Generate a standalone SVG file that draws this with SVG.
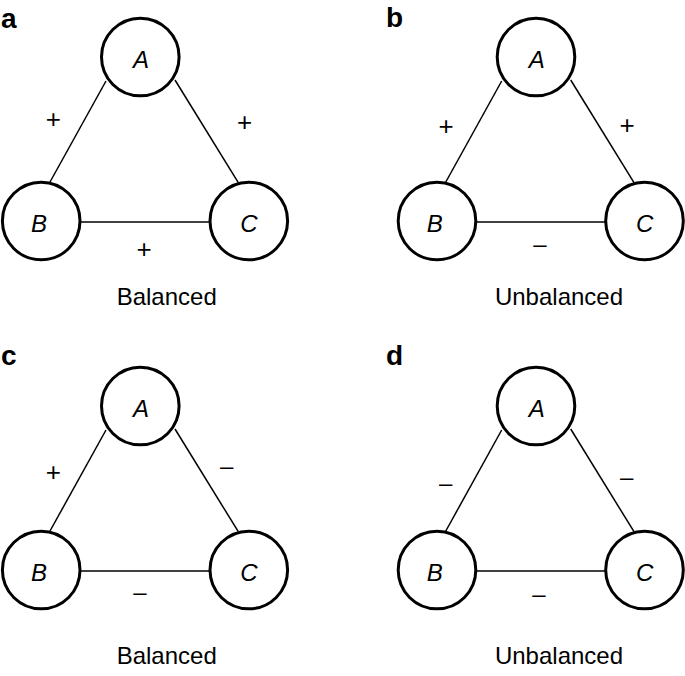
<svg xmlns="http://www.w3.org/2000/svg" width="685" height="676" viewBox="0 0 685 676">
<style>
.node circle{fill:#fff;stroke:#000;stroke-width:3}
.node text{font-family:"Liberation Sans",Arial,sans-serif;font-style:italic;font-size:24px;text-anchor:middle;fill:#000}
.edge{stroke:#000;stroke-width:1.5;fill:none}
.sign{font-family:"Liberation Sans",Arial,sans-serif;font-size:24px;text-anchor:middle;fill:#000}
.plus{font-size:26px}
.cap{font-family:"Liberation Sans",Arial,sans-serif;font-size:24px;text-anchor:middle;fill:#000}
.plabel{font-family:"Liberation Sans",Arial,sans-serif;font-size:28px;font-weight:bold;fill:#000}
</style>
<rect width="685" height="676" fill="#fff"/>

<!-- Panel a -->
<g id="panel-a">
  <text class="plabel" x="1" y="28">a</text>
  <g id="edges-a">
    <line class="edge" x1="106" y1="81" x2="50" y2="182"/>
    <line class="edge" x1="175" y1="80" x2="238.3" y2="182.7"/>
    <line class="edge" x1="80" y1="222" x2="210" y2="222"/>
  </g>
  <g id="a-A" class="node"><circle cx="140.3" cy="57" r="38.8"/><text x="141" y="68">A</text></g>
  <g id="a-B" class="node"><circle cx="41.2" cy="221" r="38.8"/><text x="39" y="232">B</text></g>
  <g id="a-C" class="node"><circle cx="248.8" cy="221" r="38.8"/><text x="249" y="232">C</text></g>
  <text class="sign plus" x="53.3" y="128">+</text>
  <text class="sign plus" x="244.5" y="131">+</text>
  <text class="sign plus" x="144" y="258">+</text>
  <text class="cap" x="166.7" y="305">Balanced</text>
</g>

<!-- Panel b -->
<g id="panel-b">
  <text class="plabel" x="386" y="27">b</text>
  <g id="edges-b">
    <line class="edge" x1="501.7" y1="81" x2="445.8" y2="182"/>
    <line class="edge" x1="570.7" y1="80" x2="634" y2="182.7"/>
    <line class="edge" x1="476" y1="222" x2="605.5" y2="222"/>
  </g>
  <g id="b-A" class="node"><circle cx="536" cy="57" r="38.8"/><text x="536.7" y="68">A</text></g>
  <g id="b-B" class="node"><circle cx="437" cy="221" r="38.8"/><text x="434.8" y="232">B</text></g>
  <g id="b-C" class="node"><circle cx="644.5" cy="221" r="38.8"/><text x="644.7" y="232">C</text></g>
  <text class="sign plus" x="446" y="135">+</text>
  <text class="sign plus" x="627" y="134">+</text>
  <text class="sign" x="540" y="251.7">–</text>
  <text class="cap" x="559" y="305">Unbalanced</text>
</g>

<!-- Panel c -->
<g id="panel-c">
  <text class="plabel" x="1" y="365">c</text>
  <g id="edges-c">
    <line class="edge" x1="106" y1="430" x2="50" y2="531"/>
    <line class="edge" x1="175" y1="429" x2="238.3" y2="531.7"/>
    <line class="edge" x1="80" y1="571" x2="210" y2="571"/>
  </g>
  <g id="c-A" class="node"><circle cx="140.3" cy="406" r="38.8"/><text x="141" y="417">A</text></g>
  <g id="c-B" class="node"><circle cx="41.2" cy="570" r="38.8"/><text x="39" y="581">B</text></g>
  <g id="c-C" class="node"><circle cx="248.8" cy="570" r="38.8"/><text x="249" y="581">C</text></g>
  <text class="sign plus" x="53.3" y="480.5">+</text>
  <text class="sign" x="226.7" y="474.4">–</text>
  <text class="sign" x="140" y="600">–</text>
  <text class="cap" x="166.7" y="664">Balanced</text>
</g>

<!-- Panel d -->
<g id="panel-d">
  <text class="plabel" x="386" y="365">d</text>
  <g id="edges-d">
    <line class="edge" x1="501.7" y1="430" x2="445.8" y2="531"/>
    <line class="edge" x1="570.7" y1="429" x2="634" y2="531.7"/>
    <line class="edge" x1="476" y1="571" x2="605.5" y2="571"/>
  </g>
  <g id="d-A" class="node"><circle cx="536" cy="406" r="38.8"/><text x="536.7" y="417">A</text></g>
  <g id="d-B" class="node"><circle cx="437" cy="570" r="38.8"/><text x="434.8" y="581">B</text></g>
  <g id="d-C" class="node"><circle cx="644.5" cy="570" r="38.8"/><text x="644.7" y="581">C</text></g>
  <text class="sign" x="445.7" y="491">–</text>
  <text class="sign" x="626.7" y="485">–</text>
  <text class="sign" x="539" y="601.7">–</text>
  <text class="cap" x="559" y="664">Unbalanced</text>
</g>
</svg>
